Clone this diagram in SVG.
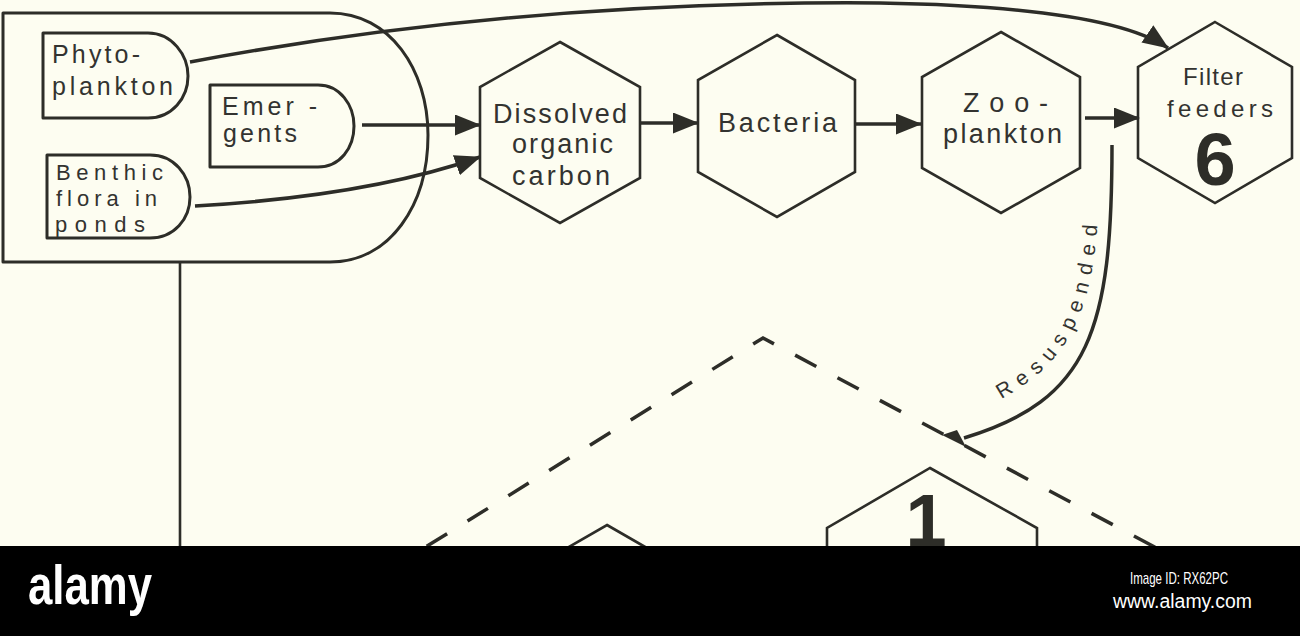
<svg xmlns="http://www.w3.org/2000/svg" width="1300" height="636" viewBox="0 0 1300 636">
<style>
.bg{fill:#fdfdf1}
.box{fill:none;stroke:#2d2d28;stroke-width:3;stroke-linejoin:round}
.hex{fill:none;stroke:#2d2d28;stroke-width:2.6;stroke-linejoin:miter}
.con{fill:none;stroke:#2d2d28;stroke-width:3.5}
.thin{fill:none;stroke:#2d2d28;stroke-width:2.6}
.dash{fill:none;stroke:#2d2d28;stroke-width:3.5;stroke-dasharray:24 24;stroke-dashoffset:42}
.t{font-family:"Liberation Sans",Arial,sans-serif;font-size:25px;fill:#333330}
.s{font-family:"Liberation Sans",Arial,sans-serif;font-size:22px;fill:#333330}
.h{font-family:"Liberation Sans",Arial,sans-serif;font-size:27px;fill:#333330}
.f{font-family:"Liberation Sans",Arial,sans-serif;font-size:24px;fill:#333330}
.big{font-family:"Liberation Sans",Arial,sans-serif;font-size:74px;font-weight:bold;fill:#2d2d28}
.res{font-family:"Liberation Sans",Arial,sans-serif;font-size:21px;fill:#333330;letter-spacing:8px}
.wm{font-family:"Liberation Sans",Arial,sans-serif;fill:#ffffff}
</style>
<defs>
<marker id="arr" markerUnits="userSpaceOnUse" viewBox="0 0 26 21" refX="25" refY="10.5" markerWidth="26" markerHeight="21" orient="auto">
<path d="M0,0 L26,10.5 L0,21 Z" fill="#2d2d28"/>
</marker>
<path id="resPath" d="M1001,399 C1070,362 1098,310 1099,180"/>
</defs>
<rect class="bg" x="0" y="0" width="1300" height="636"/>

<g id="primary-producers">
<path class="box" d="M3,13 H330 C390,13 428,70 428,135 C428,205 390,262 330,262 H3 Z"/>
</g>
<g id="phytoplankton">
<path class="box" d="M43,33 H148 C172,33 188,55 188,76 C188,98 172,118 148,118 H43 Z"/>
<text class="t" x="52" y="63" textLength="88" lengthAdjust="spacing">Phyto-</text>
<text class="t" x="52" y="95" textLength="121" lengthAdjust="spacing">plankton</text>
</g>
<g id="emergents">
<path class="box" d="M210,85 H318 C340,85 354,105 354,126 C354,148 340,167 318,167 H210 Z"/>
<text class="t" x="222" y="115" textLength="95" lengthAdjust="spacing">Emer -</text>
<text class="t" x="223" y="142" textLength="74" lengthAdjust="spacing">gents</text>
</g>
<g id="benthic-flora">
<path class="box" d="M47,155 H150 C174,155 190,175 190,197 C190,219 174,238 150,238 H47 Z"/>
<text class="s" x="56" y="180" textLength="107" lengthAdjust="spacing">Benthic</text>
<text class="s" x="56" y="206" textLength="101" lengthAdjust="spacing">flora in</text>
<text class="s" x="55" y="232" textLength="90" lengthAdjust="spacing">ponds</text>
</g>

<g id="doc">
<polygon class="hex" points="560,42 640,87 640,178 560,223 480,178 480,87"/>
<text class="h" x="493" y="123" textLength="134" lengthAdjust="spacing">Dissolved</text>
<text class="h" x="512" y="153" textLength="101" lengthAdjust="spacing">organic</text>
<text class="h" x="512" y="185" textLength="98" lengthAdjust="spacing">carbon</text>
</g>
<g id="bacteria">
<polygon class="hex" points="777,35 855,80 855,172 777,217 698,172 698,80"/>
<text class="h" x="718" y="132" textLength="119" lengthAdjust="spacing">Bacteria</text>
</g>
<g id="zooplankton">
<polygon class="hex" points="1001,32 1080,77 1080,168 1001,213 922,168 922,77"/>
<text class="h" x="963" y="112" textLength="85" lengthAdjust="spacing">Zoo-</text>
<text class="h" x="943" y="143" textLength="119" lengthAdjust="spacing">plankton</text>
</g>
<g id="filter-feeders">
<polygon class="hex" points="1215,22 1292,67 1292,158 1215,203 1138,158 1138,67"/>
<text class="f" x="1183" y="85" textLength="60" lengthAdjust="spacing">Filter</text>
<text class="f" x="1167" y="117" textLength="106" lengthAdjust="spacing">feeders</text>
<text class="big" x="1215" y="185" text-anchor="middle">6</text>
</g>

<g id="sediment-zone">
<polyline class="dash" points="340,600 763,338 1254,600"/>
</g>
<g id="hex-left">
<polygon class="hex" points="607,525 720,590 720,640 494,640 494,590"/>
</g>
<g id="hex-1">
<polygon class="hex" points="930,468 1037,528 1037,640 827,640 827,528"/>
<text class="big" x="926" y="546" text-anchor="middle">1</text>
</g>

<g id="connectors">
<path class="con" d="M190,62 Q520,0 880,3 C1000,5 1120,15 1168,48" marker-end="url(#arr)"/>
<path class="con" d="M362,125 H480" marker-end="url(#arr)"/>
<path class="con" d="M195,206 C300,200 400,185 480,157" marker-end="url(#arr)"/>
<path class="con" d="M640,123 H698" marker-end="url(#arr)"/>
<path class="con" d="M855,124 H921" marker-end="url(#arr)"/>
<path class="con" d="M1085,118 H1139" marker-end="url(#arr)"/>
<path class="thin" d="M180,262 V546"/>
<path class="con" d="M1112,145 C1112,330 1090,400 964,438"/>
<polygon points="942,435 957,430 966,447" fill="#2d2d28"/>
<text class="res"><textPath href="#resPath" startOffset="0">Resuspended</textPath></text>
</g>

<g id="watermark-bar">
<rect x="0" y="546" width="1300" height="90" fill="#000000"/>
<text class="wm" x="28" y="604" font-size="56" font-weight="bold" textLength="124" lengthAdjust="spacingAndGlyphs">alamy</text>
<text class="wm" x="1130" y="584" font-size="17" textLength="98" lengthAdjust="spacingAndGlyphs">Image ID: RX62PC</text>
<text class="wm" x="1113" y="608" font-size="20" textLength="139" lengthAdjust="spacingAndGlyphs">www.alamy.com</text>
</g>
</svg>
